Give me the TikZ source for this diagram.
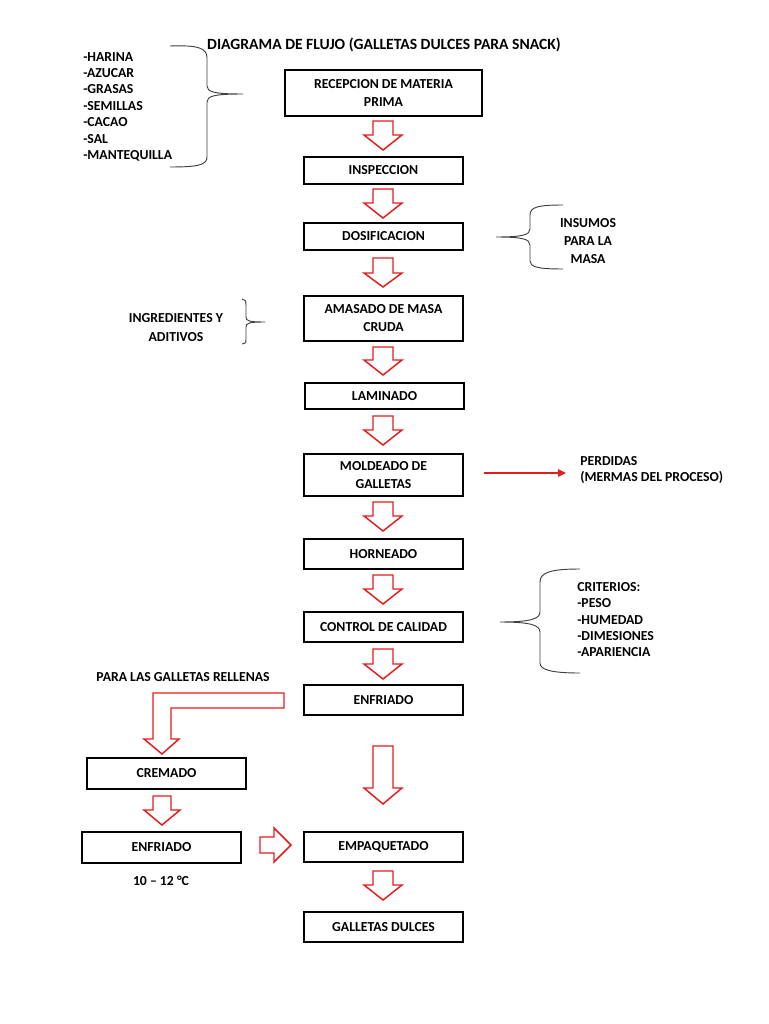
\documentclass[tikz,border=0pt]{standalone}
\usepackage{fontspec}
\setmainfont{Carlito}
\usetikzlibrary{arrows.meta,calc}
\definecolor{arr}{RGB}{228,28,28}
\tikzset{
  box/.style={draw=black, line width=0.9pt, fill=white, inner sep=0pt, align=center,
    font=\fontsize{10.3}{13.5}\selectfont\bfseries},
  lbl/.style={inner sep=0pt, font=\fontsize{10.3}{12.3}\selectfont\bfseries},
  barrow/.style={draw=arr, line width=1.1pt, fill=white, line join=miter},
  brace/.style={draw=black!75, line width=0.7pt},
}
\newcommand\procbox[6]{\node[box, minimum width={(#4-#2)*0.75pt}, minimum height={(#5-#3)*0.75pt}] (#1) at ({(#2+#4)/2},{(#3+#5)/2}) {#6};}
% block arrow down: centre x, top, head base, tip
\newcommand\blkdown[4]{\draw[barrow] (#1-10,#2) -- (#1+10,#2) -- (#1+10,#3) -- (#1+19,#3) -- (#1,#4) -- (#1-19,#3) -- (#1-10,#3) -- cycle;}
\begin{document}
\begin{tikzpicture}[x=0.75pt,y=-0.75pt]
\useasboundingbox[fill=white] (0,0) rectangle (768,1024);

% title
\node[lbl, font=\fontsize{11.7}{14}\selectfont\bfseries] (title) at (384,45) {DIAGRAMA DE FLUJO (GALLETAS DULCES PARA SNACK)};

% process boxes
\procbox{rec}{285}{70}{482}{116}{RECEPCION DE MATERIA\\PRIMA}
\procbox{insp}{304}{157}{463}{184}{INSPECCION}
\procbox{dos}{304}{223}{463}{250}{DOSIFICACION}
\procbox{ama}{304}{296}{463}{341}{AMASADO DE MASA\\CRUDA}
\procbox{lam}{305}{383}{464}{409}{LAMINADO}
\procbox{mol}{304}{454}{463}{496}{MOLDEADO DE\\GALLETAS}
\procbox{hor}{304}{539}{463}{569}{HORNEADO}
\procbox{ctrl}{304}{612}{463}{642}{CONTROL DE CALIDAD}
\procbox{enf}{304}{685}{463}{715}{ENFRIADO}
\procbox{crem}{87}{758}{246}{789}{CREMADO}
\procbox{enfb}{82}{832}{241}{863}{ENFRIADO}
\procbox{emp}{304}{832}{463}{862}{EMPAQUETADO}
\procbox{gal}{304}{912}{463}{942}{GALLETAS DULCES}

% block arrows
\blkdown{383}{121}{135}{150}
\blkdown{383}{189}{203}{218}
\blkdown{383}{258}{273}{287}
\blkdown{383}{347}{360}{375}
\blkdown{383}{416}{430}{445}
\blkdown{383}{502}{516}{531}
\blkdown{383}{575}{589}{604}
\blkdown{383}{649}{664}{679}
\blkdown{383}{746}{788}{804}
\blkdown{383}{871}{885}{900}
\draw[barrow] (153,796) -- (171,796) -- (171,810) -- (180,810) -- (162,825) -- (144,810) -- (153,810) -- cycle;
\draw[barrow] (260,837) -- (274,837) -- (274,828) -- (291,845) -- (274,862) -- (274,853) -- (260,853) -- cycle;
\draw[barrow] (284,693) -- (284,708) -- (171,708) -- (171,739) -- (179,739) -- (162,754) -- (144,739) -- (153,739) -- (153,693) -- cycle;

% left list and brace
\node[lbl, anchor=north west, align=left] (list) at (83,52) {-HARINA\\-AZUCAR\\-GRASAS\\-SEMILLAS\\-CACAO\\-SAL\\-MANTEQUILLA};
\draw[brace] (170,46) .. controls (198,45) and (207,48) .. (207,58) -- (207,86) .. controls (207,92) and (214,94) .. (243,94)
  .. controls (214,94) and (207,96) .. (207,102) -- (207,157) .. controls (207,165) and (198,167) .. (170,167);

% insumos
\node[lbl, align=center, font=\fontsize{10.3}{13.5}\selectfont\bfseries] (ins) at (588,241) {INSUMOS\\PARA LA\\MASA};
\draw[brace] (563,205) .. controls (538,205) and (530,207) .. (530,215) -- (530,229) .. controls (530,235) and (522,237) .. (496,237)
  .. controls (522,237) and (530,239) .. (530,245) -- (530,261) .. controls (530,267) and (538,269) .. (563,269);

% ingredientes
\node[lbl, align=center, font=\fontsize{10.3}{14.2}\selectfont\bfseries] (ingr) at (176,328) {INGREDIENTES Y\\ADITIVOS};
\draw[brace] (242,299) .. controls (245,299) and (246,301) .. (246,305) -- (246,317) .. controls (246,321) and (249,322) .. (265,322)
  .. controls (249,322) and (246,323) .. (246,327) -- (246,339) .. controls (246,343) and (245,344) .. (242,344);

% perdidas
\node[lbl, anchor=west, align=left] (perd) at (580,470) {PERDIDAS\\(MERMAS DEL PROCESO)};
\draw[draw=arr, line width=1.5pt, -{Triangle[length=6pt,width=5.5pt]}] ([xshift=15pt]mol.east |- 0,473) coordinate (pstart) -- (566,473) coordinate (pend);

% criterios
\node[lbl, anchor=north west, align=left] (crit) at (577,582) {CRITERIOS:\\-PESO\\-HUMEDAD\\-DIMESIONES\\-APARIENCIA};
\draw[brace] (580,569) .. controls (552,569) and (540,572) .. (540,582) -- (540,612) .. controls (540,619) and (530,622) .. (500,622)
  .. controls (530,622) and (540,625) .. (540,632) -- (540,663) .. controls (540,670) and (552,673) .. (580,673);

% other labels
\node[lbl] (rell) at (183,677) {PARA LAS GALLETAS RELLENAS};
\node[lbl] (temp) at (161,881) {10 -- 12 °C};
\end{tikzpicture}
\end{document}
